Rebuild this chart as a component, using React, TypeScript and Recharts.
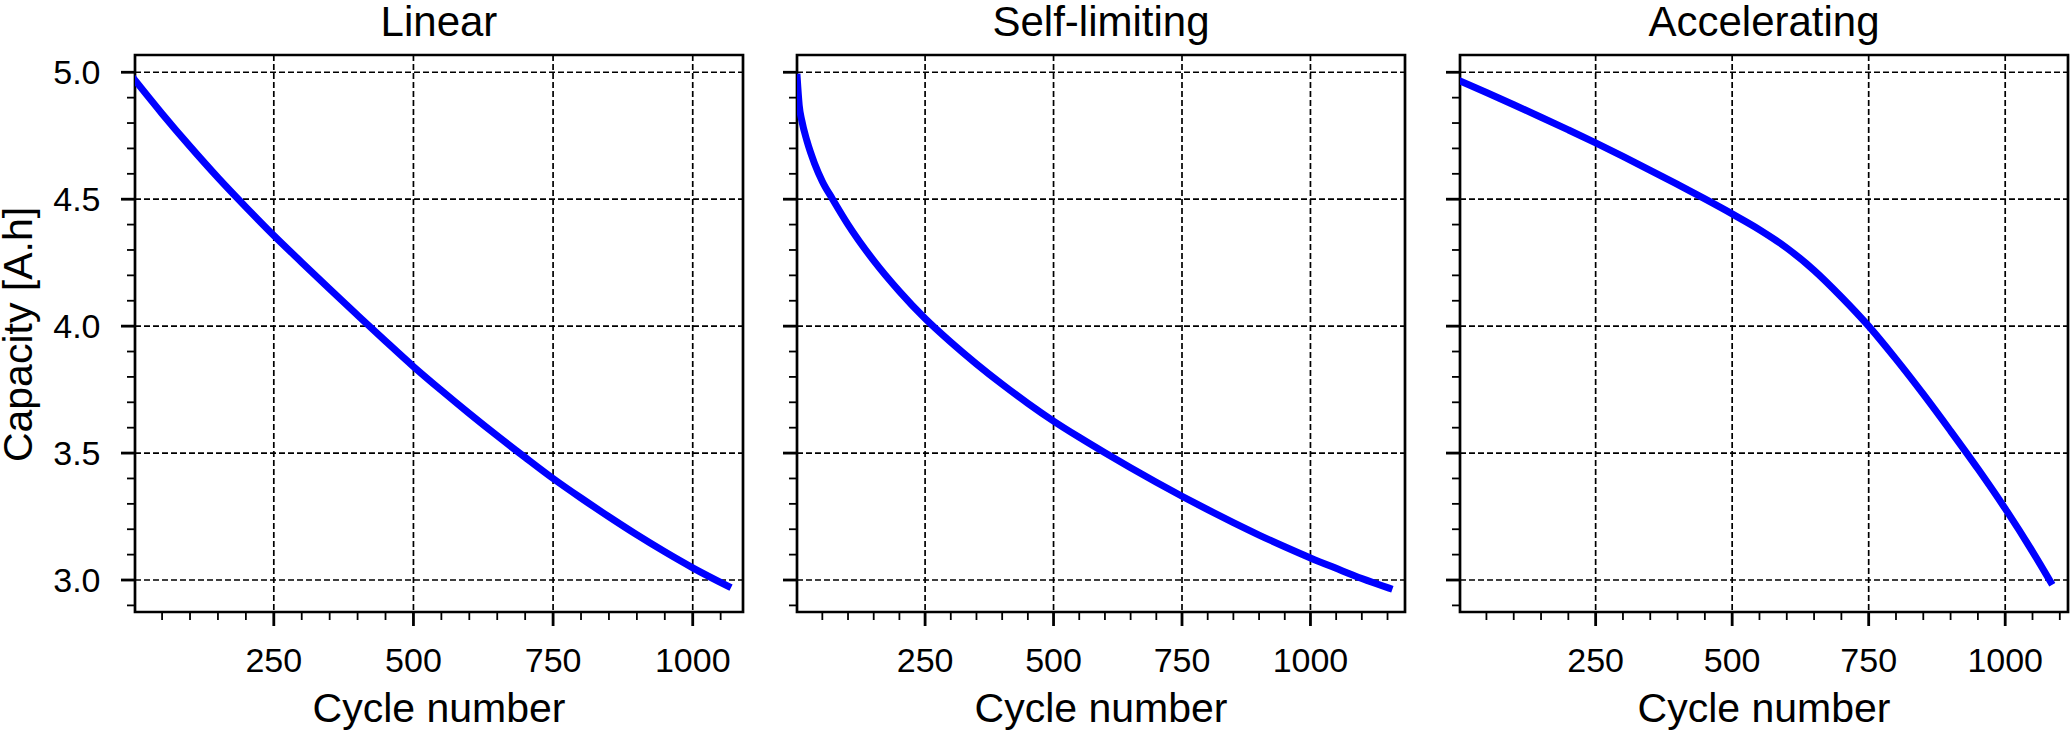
import { LineChart, Line, XAxis, YAxis, CartesianGrid, ReferenceArea } from "recharts";

const FONT = '"Liberation Sans", Arial, Helvetica, sans-serif';

// values
const linearCycles = [1, 50, 100, 150, 200, 250, 300, 350, 400, 450, 500, 550, 600, 650, 700, 750, 800, 850, 900, 950, 1000, 1063];
const linearCapacity = [4.97, 4.837, 4.708, 4.585, 4.469, 4.357, 4.251, 4.146, 4.043, 3.941, 3.841, 3.747, 3.656, 3.568, 3.483, 3.4, 3.323, 3.249, 3.178, 3.111, 3.048, 2.976];

const selfLimCycles = [1, 5, 10, 20, 35, 50, 70, 100, 150, 200, 250, 300, 350, 400, 450, 500, 550, 600, 650, 700, 750, 800, 850, 900, 950, 1000, 1050, 1100, 1153];
const selfLimCapacity = [4.98, 4.87, 4.81, 4.73, 4.64, 4.57, 4.5, 4.4, 4.258, 4.137, 4.03, 3.937, 3.851, 3.771, 3.696, 3.626, 3.562, 3.501, 3.442, 3.385, 3.33, 3.277, 3.226, 3.177, 3.131, 3.087, 3.046, 3.006, 2.968];

const accelCycles = [1, 50, 100, 150, 200, 250, 300, 350, 400, 450, 500, 550, 600, 650, 700, 750, 800, 850, 900, 950, 1000, 1050, 1083];
const accelCapacity = [4.966, 4.92, 4.872, 4.823, 4.773, 4.722, 4.669, 4.614, 4.558, 4.501, 4.442, 4.38, 4.308, 4.22, 4.115, 4.0, 3.87, 3.732, 3.587, 3.438, 3.281, 3.112, 2.993];

const yTicks = [2.9, 3.0, 3.1, 3.2, 3.3, 3.4, 3.5, 3.6, 3.7, 3.8, 3.9, 4.0, 4.1, 4.2, 4.3, 4.4, 4.5, 4.6, 4.7, 4.8, 4.9, 5.0];
const yGrid = [3.0, 3.5, 4.0, 4.5, 5.0];
const xGrid = [250, 500, 750, 1000];
const xTicksLinear = [50, 100, 150, 200, 250, 300, 350, 400, 450, 500, 550, 600, 650, 700, 750, 800, 850, 900, 950, 1000, 1050];
const xTicksSelfLim = [50, 100, 150, 200, 250, 300, 350, 400, 450, 500, 550, 600, 650, 700, 750, 800, 850, 900, 950, 1000, 1050, 1100, 1150];
const xTicksAccel = [50, 100, 150, 200, 250, 300, 350, 400, 450, 500, 550, 600, 650, 700, 750, 800, 850, 900, 950, 1000, 1050, 1100];

const Y_DOMAIN: [number, number] = [2.874, 5.068];
const PLOT_W = 608;
const PLOT_H = 557;
const TOP = 55;
const HEIGHT = 732;

const panels = [
  { title: "Linear", cycles: linearCycles, capacity: linearCapacity, xDomain: [1.5, 1090], xTicks: xTicksLinear, plotLeft: 135, axisW: 135, right: 12 },
  { title: "Self-limiting", cycles: selfLimCycles, capacity: selfLimCapacity, xDomain: [0.7, 1184], xTicks: xTicksSelfLim, plotLeft: 797, axisW: 45, right: 12 },
  { title: "Accelerating", cycles: accelCycles, capacity: accelCapacity, xDomain: [1.6, 1115], xTicks: xTicksAccel, plotLeft: 1460, axisW: 45, right: 2 },
];

const isMajorY = (v: number) => Math.abs(v * 2 - Math.round(v * 2)) < 1e-9;

const YTick = ({ x, y, payload, showLabel }: any) => {
  const major = isMajorY(payload.value);
  return (
    <g>
      <line x1={x} x2={x - (major ? 14 : 8)} y1={y} y2={y} stroke="#000" strokeWidth={major ? 2.8 : 1.8} />
      {showLabel && major && (
        <text x={x - 34.5} y={y + 12} textAnchor="end" fontSize={34} fontFamily={FONT} fill="#000">
          {payload.value.toFixed(1)}
        </text>
      )}
    </g>
  );
};

const XTick = ({ x, y, payload }: any) => {
  const major = payload.value % 250 === 0;
  return (
    <g>
      <line x1={x} x2={x} y1={y} y2={y + (major ? 14 : 8)} stroke="#000" strokeWidth={major ? 2.8 : 1.8} />
      {major && (
        <text x={x} y={y + 59.5} textAnchor="middle" fontSize={34} fontFamily={FONT} fill="#000">
          {payload.value}
        </text>
      )}
    </g>
  );
};

function Panel({ p, first }: any) {
  const data = p.cycles.map((c: number, i: number) => ({ cycle: c, capacity: p.capacity[i] }));
  const width = p.axisW + PLOT_W + p.right;
  const cx = p.axisW + PLOT_W / 2;
  return (
    <div style={{ position: "absolute", left: p.plotLeft - p.axisW, top: 0 }}>
      <LineChart width={width} height={HEIGHT} data={data} margin={{ top: TOP, right: p.right, bottom: 0, left: 0 }}>
        <CartesianGrid
          horizontalValues={yGrid}
          verticalValues={xGrid}
          stroke="#000"
          strokeWidth={1.7}
          strokeDasharray="6 3"
        />
        <XAxis
          dataKey="cycle"
          type="number"
          domain={p.xDomain}
          allowDataOverflow
          ticks={p.xTicks}
          interval={0}
          height={HEIGHT - TOP - PLOT_H}
          tickSize={0}
          tickMargin={0}
          axisLine={false}
          tickLine={false}
          tick={(props: any) => <XTick {...props} />}
          label={{
            content: () => (
              <g fontFamily={FONT} fill="#000">
                <text x={cx} y={36} textAnchor="middle" fontSize={42}>{p.title}</text>
                <text x={cx} y={722} textAnchor="middle" fontSize={41}>Cycle number</text>
              </g>
            ),
          }}
        />
        <YAxis
          type="number"
          domain={Y_DOMAIN}
          allowDataOverflow
          ticks={yTicks}
          interval={0}
          width={p.axisW}
          tickSize={0}
          tickMargin={0}
          axisLine={false}
          tickLine={false}
          tick={(props: any) => <YTick {...props} showLabel={first} />}
          label={
            first
              ? {
                  content: () => (
                    <text
                      x={32}
                      y={TOP + PLOT_H / 2 + 1}
                      transform={`rotate(-90, 32, ${TOP + PLOT_H / 2 + 1})`}
                      textAnchor="middle"
                      fontFamily={FONT}
                      fontSize={41}
                      fill="#000"
                    >
                      Capacity [A.h]
                    </text>
                  ),
                }
              : undefined
          }
        />
        <Line
          type="monotone"
          dataKey="capacity"
          stroke="#0000ff"
          strokeWidth={7}
          strokeLinecap="square"
          dot={false}
          activeDot={false}
          isAnimationActive={false}
        />
        <ReferenceArea
          x1={p.xDomain[0]}
          x2={p.xDomain[1]}
          y1={Y_DOMAIN[0]}
          y2={Y_DOMAIN[1]}
          fill="none"
          fillOpacity={0}
          stroke="#000"
          strokeWidth={2.7}
          ifOverflow="visible"
        />
      </LineChart>
    </div>
  );
}

export default function App() {
  return (
    <div
      style={{
        position: "absolute",
        left: 0,
        top: 0,
        width: 2070,
        height: HEIGHT,
        overflow: "hidden",
        background: "#fff",
      }}
    >
      {panels.map((p, i) => (
        <Panel key={p.title} p={p} first={i === 0} />
      ))}
    </div>
  );
}
